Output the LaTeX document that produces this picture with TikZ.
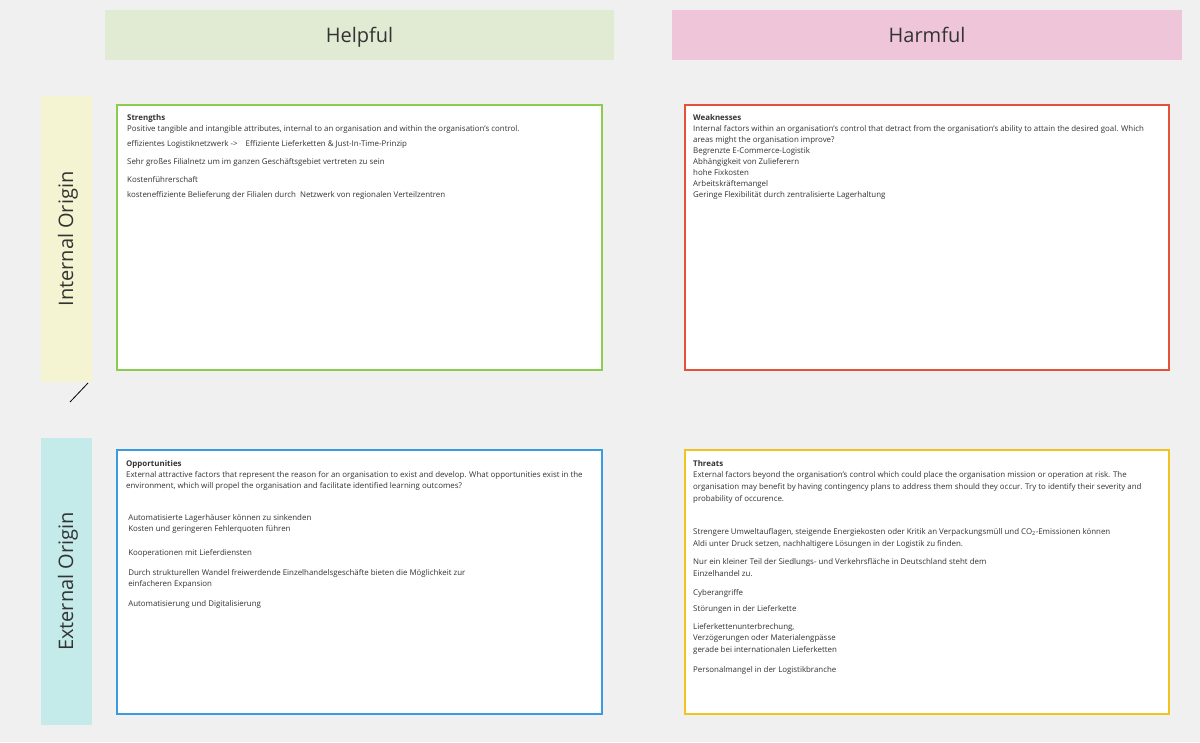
\documentclass[tikz,border=0pt]{standalone}
\usepackage{fontspec}
\setmainfont{Open Sans}
\usetikzlibrary{positioning}
\definecolor{bgcol}{HTML}{F0F0F0}
\definecolor{helpcol}{HTML}{E1EBD4}
\definecolor{harmcol}{HTML}{EEC5D9}
\definecolor{intcol}{HTML}{F5F4D2}
\definecolor{extcol}{HTML}{C5EAEA}
\definecolor{strcol}{HTML}{8BCB4E}
\definecolor{weakcol}{HTML}{E4523A}
\definecolor{oppcol}{HTML}{3A9BE0}
\definecolor{thrcol}{HTML}{F0C31E}
\definecolor{txtcol}{HTML}{333333}

\begin{document}
\begin{tikzpicture}[
    x=1pt, y=-1pt,
    header/.style={inner sep=0pt, font=\fontsize{20}{23}\selectfont, text=txtcol},
    swotbox/.style={draw=#1, line width=2.6pt, fill=white},
    swottext/.style={anchor=north west, inner sep=0pt, align=left, text=txtcol,
        font=\fontsize{7.9}{11}\selectfont}
]

% Background
\fill[bgcol] (0,0) rectangle (1200,742);
\useasboundingbox (0,0) rectangle (1200,742);

% Column and row headers
\fill[helpcol] (105,10) rectangle (614,60);
\fill[harmcol] (672,10) rectangle (1182,60);
\fill[intcol] (41,96) rectangle (92,382);
\fill[extcol] (41,438) rectangle (92,725);
\node[header, anchor=base] (helpful) at (359.5,42) {Helpful};
\node[header, anchor=base] (harmful) at (927,42) {Harmful};
\node[header, rotate=90, anchor=base] (internal) at (73,239) {Internal Origin};
\node[header, rotate=90, anchor=base] (external) at (73,581.5) {External Origin};

% Stray stroke
\coordinate (s1) at (70,402);
\coordinate (s2) at (88,383);
\draw[line width=0.8pt] (s1) -- (s2);

% Quadrants
\draw[swotbox=strcol] (117,105) rectangle (602,370);
\draw[swotbox=weakcol] (685,105) rectangle (1169,370);
\draw[swotbox=oppcol] (117,450) rectangle (602,714);
\draw[swotbox=thrcol] (685,450) rectangle (1169,714);

% Strengths
\node[swottext] (strengths) at (127,114) {\textbf{Strengths}\\
Positive tangible and intangible attributes, internal to an organisation and within the organisation's control.\\[4pt]
effizientes Logistiknetzwerk ->\quad Effiziente Lieferketten \& Just-In-Time-Prinzip\\[7pt]
Sehr großes Filialnetz um im ganzen Geschäftsgebiet vertreten zu sein\\[7pt]
Kostenführerschaft\\[4pt]
kosteneffiziente Belieferung der Filialen durch\ \ Netzwerk von regionalen Verteilzentren};

% Weaknesses
\node[swottext] (weaknesses) at (693,114) {\textbf{Weaknesses}\\
Internal factors within an organisation's control that detract from the organisation's ability to attain the desired goal. Which\\
areas might the organisation improve?\\
Begrenzte E-Commerce-Logistik\\
Abhängigkeit von Zulieferern\\
hohe Fixkosten\\
Arbeitskräftemangel\\
Geringe Flexibilität durch zentralisierte Lagerhaltung};

% Opportunities
\node[swottext] (opportunities) at (126,460) {\textbf{Opportunities}\\
External attractive factors that represent the reason for an organisation to exist and develop. What opportunities exist in the\\
environment, which will propel the organisation and facilitate identified learning outcomes?\\[21pt]
\ Automatisierte Lagerhäuser können zu sinkenden\\
\ Kosten und geringeren Fehlerquoten führen\\[13pt]
\ Kooperationen mit Lieferdiensten\\[9pt]
\ Durch strukturellen Wandel freiwerdende Einzelhandelsgeschäfte bieten die Möglichkeit zur\\
\ einfacheren Expansion\\[9pt]
\ Automatisierung und Digitalisierung};

% Threats
\node[swottext, font=\fontsize{7.9}{11.6}\selectfont] (threats) at (693,460) {\textbf{Threats}\\
External factors beyond the organisation's control which could place the organisation mission or operation at risk. The\\
organisation may benefit by having contingency plans to address them should they occur. Try to identify their severity and\\
probability of occurence.\\[22pt]
Strengere Umweltauflagen, steigende Energiekosten oder Kritik an Verpackungsmüll und CO\textsubscript{2}-Emissionen können\\
Aldi unter Druck setzen, nachhaltigere Lösungen in der Logistik zu finden.\\[7pt]
Nur ein kleiner Teil der Siedlungs- und Verkehrsfläche in Deutschland steht dem\\
Einzelhandel zu.\\[7pt]
Cyberangriffe\\[5pt]
Störungen in der Lieferkette\\[6pt]
Lieferkettenunterbrechung,\\
Verzögerungen oder Materialengpässe\\
gerade bei internationalen Lieferketten\\[8pt]
Personalmangel in der Logistikbranche};

\end{tikzpicture}
\end{document}
